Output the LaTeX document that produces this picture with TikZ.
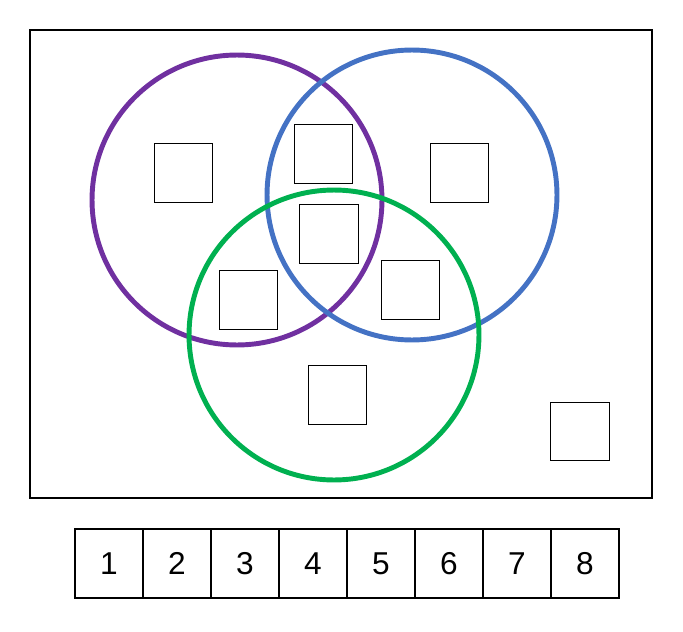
\documentclass[tikz,border=0pt]{standalone}
\usepackage{fontspec}
\setmainfont{Liberation Sans}
\usetikzlibrary{positioning}
\definecolor{setpurple}{HTML}{7030A0}
\definecolor{setblue}{HTML}{4472C4}
\definecolor{setgreen}{HTML}{00B050}

\begin{document}
\begin{tikzpicture}[
  x=0.02cm, y=-0.02cm,
  node distance=0pt,
  frame/.style={draw, line width=1.1pt, minimum width=12.44cm, minimum height=9.36cm, inner sep=0pt},
  ring/.style={circle, draw, line width=2.8pt, minimum size=5.8cm, inner sep=0pt},
  elem/.style={draw, line width=0.7pt, minimum size=1.17cm, inner sep=0pt},
  cell/.style={draw, line width=0.7pt, outer sep=0pt, inner sep=0pt,
               minimum width=1.36cm, minimum height=1.38cm,
               font=\fontsize{18}{20}\selectfont}
]
\useasboundingbox (0,0) rectangle (683,632);

% universe
\node[frame] (univ) at (341,264) {};

% the three sets
\node[ring, setpurple] (setA) at (237,200) {};
\node[ring, setblue] (setB) at (412,195) {};
\node[ring, setgreen] (setC) at (334,335) {};

% one box per region
\node[elem] (onlyA) at (183.5,173) {};
\node[elem] (AB) at (323.5,154) {};
\node[elem] (onlyB) at (459.5,173) {};
\node[elem] (ABC) at (329,234) {};
\node[elem] (AC) at (248.5,300) {};
\node[elem] (BC) at (410.5,290) {};
\node[elem] (onlyC) at (337.5,395) {};
\node[elem] (none) at (580,431.5) {};

% numbered row
\node[cell] (c1) at (109,563.5) {1};
\foreach \i [count=\j] in {2,...,8}
  \node[cell, right=of c\j] (c\i) {\i};
\end{tikzpicture}
\end{document}
